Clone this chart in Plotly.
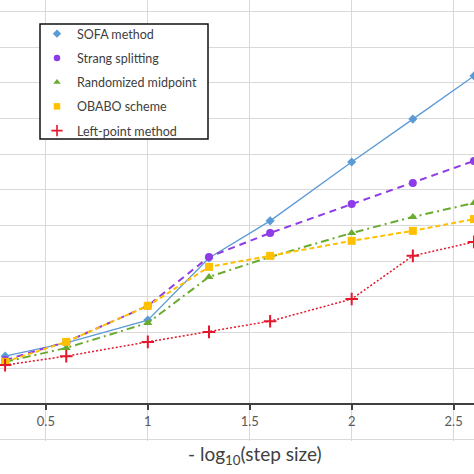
import plotly.graph_objects as go

# -log10(step size)
x_vals = [0.3, 0.6, 1.0, 1.3, 1.6, 2.0, 2.3, 2.6]

sofa = [1.34, 1.71, 2.35, 4.09, 5.13, 6.78, 7.98, 9.19]
strang = [1.23, 1.74, 2.75, 4.12, 4.79, 5.60, 6.19, 6.81]
randomized = [1.18, 1.57, 2.27, 3.56, 4.12, 4.79, 5.24, 5.63]
obabo = [1.18, 1.74, 2.75, 3.84, 4.15, 4.57, 4.85, 5.18]
leftpoint = [1.09, 1.34, 1.74, 2.02, 2.32, 2.94, 4.15, 4.54]

names = ["SOFA method", "Strang splitting", "Randomized midpoint", "OBABO scheme", "Left-point method"]
x_ticks = [0.5, 1.0, 1.5, 2.0, 2.5]
x_tick_labels = ["0.5", "1", "1.5", "2", "2.5"]

styles = [
    dict(color="#5B9BD5", symbol="diamond", dash="solid", width=1.3, size=7),
    dict(color="#8E3BE8", symbol="circle", dash="7px,5px", width=2, size=8),
    dict(color="#6AAB2F", symbol="triangle-up", dash="8px,4px,2px,4px", width=2, size=8),
    dict(color="#FFC000", symbol="square", dash="5px,3px", width=2, size=8),
    dict(color="#E5172B", symbol="cross-thin", dash="2px,2px", width=1.5, size=9),
]
series = [sofa, strang, randomized, obabo, leftpoint]

fig = go.Figure()
for name, ys, st in zip(names, series, styles):
    mk = dict(color=st["color"], symbol=st["symbol"], size=st["size"])
    if st["symbol"] == "cross-thin":
        mk["line"] = dict(color=st["color"], width=2)
    fig.add_trace(go.Scatter(
        x=x_vals, y=ys, mode="lines+markers", name=name,
        line=dict(color=st["color"], dash=st["dash"], width=st["width"]),
        marker=mk, showlegend=False,
    ))

# legend-only marker entries
for i, (name, st) in enumerate(zip(names, styles)):
    mk = dict(color=st["color"], symbol=st["symbol"], size=6.5)
    if st["symbol"] == "cross-thin":
        mk["line"] = dict(color=st["color"], width=1.6)
        mk["size"] = 8
    fig.add_trace(go.Scatter(
        x=[None], y=[None], mode="markers", name=name, marker=mk,
        legendgroup=f"g{i}", showlegend=True,
    ))

PLOT_H = 441.0   # plot area height in px (grid continues below the axis line)
PLOT_W = 474.0
AXIS_PX = 404.0  # px position of the x axis line from top
GRID = 35.7      # px per y unit

# legend frame
fig.add_shape(type="rect", xref="paper", yref="paper",
              x0=40 / PLOT_W, x1=208 / PLOT_W, y0=1 - 139 / PLOT_H, y1=1 - 24 / PLOT_H,
              line=dict(color="#111111", width=1.5), fillcolor="white", layer="above")

# axis title
fig.add_annotation(text="- log<sub>10</sub>(step size)", xref="paper", yref="paper",
                   x=255 / PLOT_W, y=1 - 455 / PLOT_H, xanchor="center", yanchor="middle",
                   showarrow=False, font=dict(size=19, color="#404040"))

fig.update_layout(
    width=474, height=474,
    margin=dict(l=0, r=0, t=0, b=474 - PLOT_H),
    paper_bgcolor="white", plot_bgcolor="white",
    font=dict(family="Lato, Open Sans, sans-serif", color="#404040"),
    showlegend=True,
    legend=dict(
        x=37 / PLOT_W, y=1 - 19 / PLOT_H, xanchor="left", yanchor="top",
        bgcolor="rgba(0,0,0,0)", borderwidth=0,
        font=dict(size=12.5, color="#404040"),
        traceorder="grouped", tracegroupgap=5,
        itemwidth=30,
    ),
    xaxis=dict(
        range=[0.275, 2.6], tickmode="array", tickvals=x_ticks, ticktext=x_tick_labels,
        anchor="free", position=1 - AXIS_PX / PLOT_H,
        showgrid=True, gridcolor="#D9D9D9", gridwidth=1.2,
        showline=True, linecolor="#404040", linewidth=1.8,
        ticks="outside", ticklen=5, tickwidth=1.5, tickcolor="#404040",
        tickfont=dict(size=13, color="#595959"),
        zeroline=False,
    ),
    yaxis=dict(
        range=[-(PLOT_H - AXIS_PX) / GRID, AXIS_PX / GRID], tick0=0, dtick=1,
        showticklabels=False,
        showgrid=True, gridcolor="#D9D9D9", gridwidth=1.2,
        zeroline=False, showline=False, ticks="",
    ),
)

fig.write_html("out.html")
